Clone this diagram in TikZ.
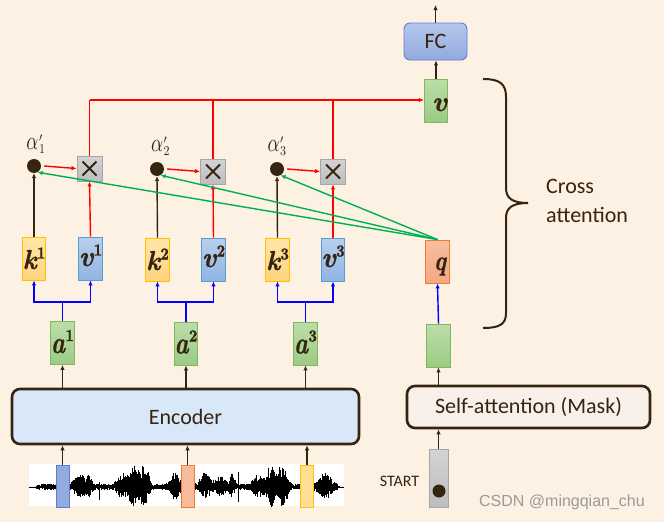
\RequirePackage{fix-cm}
\documentclass[tikz,border=0pt]{standalone}
\usepackage{amsmath,graphicx}
\usepackage{fontspec}
\setsansfont{Carlito}
\newfontfamily\wmfont{Liberation Sans}
\newfontface\lblk[FakeBold=1]{lmroman10-bolditalic.otf}
\newfontface\lblb[FakeBold=1.5]{lmroman10-bold.otf}
\usetikzlibrary{arrows.meta,calc}
% #1 letter, #2 width, #3 height, #4 digit, #5 raise of digit, #6 baseline below centre
\newcommand{\boxlbl}[6]{\makebox[0pt]{\raisebox{-#6}[0pt][0pt]{\resizebox{#2}{#3}{\lblk #1}\kern0.3pt\raisebox{#5}{\resizebox{8.5pt}{11pt}{\lblb #4}}}}}
% #1 letter, #2 width, #3 total height, #4 baseline below centre, #5 horizontal shift (doubled)
\newcommand{\slbl}[5]{\makebox[0pt]{\hspace*{#5}\raisebox{-#4}[0pt][0pt]{\resizebox*{#2}{#3}{\lblk #1}}}}
% alpha'_i, reference point = left end of baseline
\newcommand{\alphalbl}[1]{\makebox[0pt][l]{\raisebox{0pt}[0pt][0pt]{\resizebox{12pt}{11pt}{$\alpha$}\kern0.6pt\rlap{\raisebox{7.5pt}{\resizebox*{!}{6.5pt}{$\prime$}}}\raisebox{-4pt}{\resizebox{6pt}{9pt}{#1}}}}}
\definecolor{bg}{HTML}{FDF1E3}
\definecolor{ink}{HTML}{35240F}
\definecolor{myred}{HTML}{FF0000}
\definecolor{myblue}{HTML}{0000FF}
\definecolor{mygreen}{HTML}{00B050}
\definecolor{ktop}{HTML}{FFE6A6}
\definecolor{kbot}{HTML}{FFD27F}
\definecolor{kbor}{HTML}{FFC000}
\definecolor{vtop}{HTML}{B7D0EE}
\definecolor{vbot}{HTML}{8FB4E3}
\definecolor{vbor}{HTML}{5B9BD5}
\definecolor{gtop}{HTML}{BCDDAA}
\definecolor{gbot}{HTML}{9CCB84}
\definecolor{gbor}{HTML}{7DBB5A}
\definecolor{qtop}{HTML}{F7BDA0}
\definecolor{qbot}{HTML}{F4A882}
\definecolor{qbor}{HTML}{ED7D31}
\definecolor{xtop}{HTML}{D3D3D3}
\definecolor{xbot}{HTML}{BDBDBD}
\definecolor{xbor}{HTML}{A6A6A6}
\definecolor{fctop}{HTML}{B4C6EC}
\definecolor{fcbot}{HTML}{93AADF}
\definecolor{fcbor}{HTML}{5B7FCF}
\definecolor{encfill}{HTML}{D9E8F8}
\definecolor{safill}{HTML}{F9F0EA}
\definecolor{wmgray}{HTML}{9A9A9A}
\tikzset{
  box/.style={draw, line width=0.9pt, minimum width=23.5pt, minimum height=43pt, inner sep=0pt, text=ink},
  kbox/.style={box, draw=kbor, top color=ktop, bottom color=kbot},
  vbox/.style={box, draw=vbor, top color=vtop, bottom color=vbot},
  gbox/.style={box, draw=gbor, top color=gtop, bottom color=gbot},
  qbox/.style={box, draw=qbor, top color=qtop, bottom color=qbot},
  xbox/.style={draw=xbor, line width=0.9pt, top color=xtop, bottom color=xbot, minimum size=25pt, inner sep=0pt,
    path picture={\draw[ink, line width=1.9pt] (path picture bounding box.center) +(-7pt,-7pt) -- +(7pt,7pt)
      (path picture bounding box.center) +(-7pt,7pt) -- +(7pt,-7pt);}},
  dotn/.style={circle, fill=ink, minimum size=14pt, inner sep=0pt},
  alab/.style={text=ink, inner sep=0pt},
  bigbox/.style={draw=ink, line width=2.6pt, rounded corners=8pt, text=ink, font=\sffamily\fontsize{22}{24}\selectfont},
  arrtip/.style={-{Latex[length=5pt,width=4.5pt]}},
  barr/.style={arrtip, ink, line width=1.4pt},
  rarr/.style={arrtip, myred, line width=1.4pt},
  rline/.style={myred, line width=1.4pt},
  blarr/.style={arrtip, myblue, line width=1.4pt},
  blline/.style={myblue, line width=1.4pt},
  garr/.style={arrtip, mygreen, line width=1.4pt},
  wavel/.style={black, line width=0.6pt},
  segbox/.style={line width=0.9pt, minimum width=13pt, minimum height=42pt, inner sep=0pt},
}
\begin{document}
\begin{tikzpicture}[x=1pt,y=-1pt]
\fill[bg] (0,0) rectangle (664,522);
\useasboundingbox (0,0) rectangle (664,522);

% ---------- waveform ----------
\fill[white] (29,464) rectangle (344,506);
\draw[black, line width=0.8pt] (29,487) -- (343,487);
\pgfmathsetseed{17}
\foreach \x in {30,30.5,...,343}{
  \pgfmathsetmacro\A{0.4 + 2.8*(\x>36)*(\x<338)
    + 10*exp(-min(((\x-80)/7)^2,20)) + 7*exp(-min(((\x-89)/3)^2,20))
    + 11*exp(-min(((\x-122)/6)^2,20)) + 20*exp(-min(((\x-133)/5)^2,20))
    + 19*exp(-min(((\x-142)/4)^2,20)) + 11*exp(-min(((\x-147)/3)^2,20))
    + 12*exp(-min(((\x-175)/5)^2,20))
    + 12*exp(-min(((\x-205)/6)^2,20)) + 9*exp(-min(((\x-221)/6)^2,20))
    + 10*exp(-min(((\x-232)/3)^2,20))
    + 10*exp(-min(((\x-258)/6)^2,20)) + 20*exp(-min(((\x-271)/5)^2,20))
    + 19*exp(-min(((\x-281)/4)^2,20)) + 10*exp(-min(((\x-286)/3)^2,20))
    + 12*exp(-min(((\x-325)/7)^2,20))}
  \pgfmathsetmacro\u{\A*(0.3+0.7*rnd)}
  \pgfmathsetmacro\dd{\A*(0.2+0.65*rnd)}
  \draw[wavel] (\x,487-\u) -- (\x,487+\dd);
}
\draw[black, line width=0.8pt] (99,482) -- (99,500) (238,472) -- (238,502);
\node[segbox, draw=fcbor, fill=fcbot] (w1) at (62.5,486) {};
\node[segbox, draw=qbor, fill=qtop!85!qbot] (w2) at (187.5,486) {};
\node[segbox, draw=kbor, fill=ktop!60!kbot] (w3) at (307,486) {};

% ---------- encoder ----------
\node[bigbox, fill=encfill, minimum width=347pt, minimum height=55pt] (enc) at (185.5,416.5) {Encoder};

% ---------- a boxes ----------
\node[gbox] (a1) at (62.5,343) {\boxlbl{a}{14pt}{14pt}{1}{12pt}{10pt}};
\node[gbox] (a2) at (186,343.5) {\boxlbl{a}{14pt}{14pt}{2}{12pt}{10pt}};
\node[gbox] (a3) at (305.5,343.5) {\boxlbl{a}{14pt}{14pt}{3}{12pt}{10pt}};

% ---------- k, v boxes ----------
\node[kbox] (k1) at (34,258.5) {\boxlbl{k}{14pt}{19pt}{1}{10.5pt}{10.5pt}};
\node[vbox] (v1) at (90.5,258.5) {\boxlbl{v}{14.5pt}{13pt}{1}{10.5pt}{7.5pt}};
\node[kbox] (k2) at (157.5,259.5) {\boxlbl{k}{14pt}{19pt}{2}{10.5pt}{10.5pt}};
\node[vbox] (v2) at (213.5,259.5) {\boxlbl{v}{14.5pt}{13pt}{2}{10.5pt}{7.5pt}};
\node[kbox] (k3) at (277.5,259.5) {\boxlbl{k}{14pt}{19pt}{3}{10.5pt}{10.5pt}};
\node[vbox] (v3) at (333,259.5) {\boxlbl{v}{14.5pt}{13pt}{3}{10.5pt}{7.5pt}};

% ---------- dots, multiply boxes, alpha labels ----------
\node[dotn] (d1) at (34,166) {};
\node[dotn] (d2) at (157,169) {};
\node[dotn] (d3) at (277,169) {};
\node[xbox] (x1) at (89.5,168.5) {};
\node[xbox] (x2) at (213,171.5) {};
\node[xbox] (x3) at (333,171.5) {};
\node[alab] (al1) at (26.5,149) {\alphalbl{1}};
\node[alab] (al2) at (151,151) {\alphalbl{2}};
\node[alab] (al3) at (267.5,151) {\alphalbl{3}};

% ---------- decoder side ----------
\node[gbox] (vout) at (436,100.5) {\slbl{v}{15pt}{13pt}{10.5pt}{7pt}};
\node[draw=fcbor, line width=0.9pt, rounded corners=6pt, top color=fctop, bottom color=fcbot,
      minimum width=63pt, minimum height=37pt, inner sep=0pt, text=ink,
      font=\sffamily\fontsize{22}{24}\selectfont] (fc) at (435.5,41.5) {FC};
\coordinate (top) at (435.5,5);
\node[qbox] (q) at (437.5,261.5) {\slbl{q}{12pt}{18pt}{8.5pt}{5pt}};
\node[gbox] (g) at (438.5,345.5) {};
\node[bigbox, fill=safill, minimum width=243pt, minimum height=42pt] (sa) at (528.5,407) {Self-attention (Mask)};
\node[draw=xbor, line width=0.9pt, top color=xtop, bottom color=xbot, minimum width=19pt, minimum height=58pt,
      inner sep=0pt] (st) at (438.5,478) {};
\node[dotn, minimum size=13pt] (sd) at (439,491) {};
\node[text=ink, font=\sffamily\fontsize{16}{18}\selectfont, inner sep=0pt] (stl) at (399.5,481) {START};

% ---------- brace and label ----------
\draw[ink, line width=2pt] (483,79) .. controls (500,79) and (506,84) .. (506,97) -- (506,188)
  .. controls (506,198) and (512,203) .. (528,203)
  .. controls (512,203) and (506,208) .. (506,218) -- (506,313)
  .. controls (506,324) and (500,328) .. (483,328);
\node[align=left, anchor=west, text=ink, font=\sffamily\fontsize{22}{29}\selectfont, inner sep=0pt] (ca) at (546,201) {Cross\\attention};

\node[text=wmgray, font=\wmfont\fontsize{16}{18}\selectfont, inner sep=0pt] (wm) at (562,502) {CSDN @mingqian\_chu};

% ---------- connectors ----------
\foreach \i in {1,2,3}{
  \draw[barr] (w\i.north) -- (w\i.north |- enc.south);
  \draw[barr] (a\i.south |- enc.north) -- (a\i.south);
}
\coordinate (j1) at (62.5,302);
\coordinate (j2) at (186,302);
\coordinate (j3) at (305.5,302);
\foreach \i in {1,2,3}{
  \draw[blline] (a\i.north) -- (j\i);
  \draw[blarr] (j\i) -| (k\i.south);
  \draw[blarr] (j\i) -| (v\i.south);
  \draw[barr] (k\i.north) -- (d\i.south);
  \draw[rarr] (v\i.north) -- (x\i.south);
}
\draw[rarr] ($(d1.east)+(3,0)$) -- (x1.west);
\draw[rarr] ($(d2.east)+(3,0)$) -- (x2.west);
\draw[rarr] ($(d3.east)+(3,0)$) -- (x3.west);
\coordinate (r1) at (89.5,100);
\draw[rline] (x1.north) -- (r1);
\draw[rline] (x2.north) -- (x2.north |- r1);
\draw[rline] (x3.north) -- (x3.north |- r1);
\draw[rarr] (r1) -- (vout.west |- r1);
\draw[garr] (q.north) -- (d1.-60);
\draw[garr] (q.north) -- (d2.-60);
\draw[garr] (q.north) -- (d3.-60);
\draw[barr] (st.north) -- (st.north |- sa.south);
\draw[barr] (g.south |- sa.north) -- (g.south);
\draw[blarr] (g.north) -- (q.south);
\draw[barr] (vout.north) -- (vout.north |- fc.south);
\draw[barr] (fc.north) -- (top);
\end{tikzpicture}
\end{document}
